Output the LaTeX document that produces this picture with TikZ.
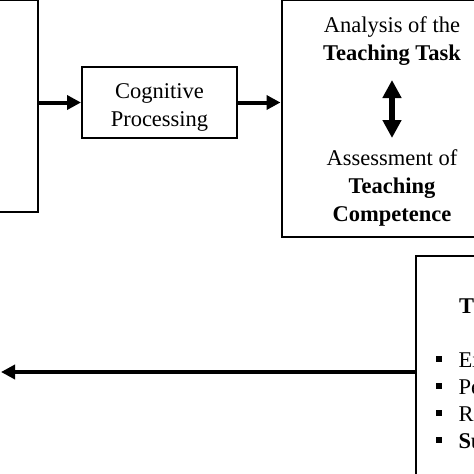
\documentclass[tikz,border=0pt]{standalone}
\usepackage{fontspec}
\setmainfont{Liberation Serif}
\usetikzlibrary{arrows.meta}

\begin{document}
\begin{tikzpicture}[x=1pt,y=-1pt,
    box/.style={draw,line width=2pt,inner sep=0pt},
    txt/.style={font=\fontsize{22.5}{28}\selectfont,align=center,inner sep=0pt},
    flow/.style={line width=4pt,-{Triangle[length=14pt,width=14pt]}},
    twoway/.style={line width=6pt,{Triangle[length=18pt,width=18pt]}-{Triangle[length=18pt,width=18pt]}},
    dot/.style={fill,inner sep=0pt,minimum size=6pt}]
    \useasboundingbox (0,0) rectangle (474,474);
    \clip (0,0) rectangle (474,474);
    % boxes
    \node[box,minimum width=50pt,minimum height=212.3pt] (source) at (12.7,105.85) {};
    \node[box,minimum width=155pt,minimum height=71pt] (cog) at (159.5,102.5) {};
    \node[box,minimum width=218.5pt,minimum height=237.3pt] (task) at (390.75,118.35) {};
    \node[box,minimum width=84pt,minimum height=244pt] (practice) at (458,378) {};
    % texts
    \node[txt] (cogtxt) at (159.5,107.5) {Cognitive\\Processing};
    \node[txt] (analysis) at (392,41.5) {Analysis of the\\\textbf{Teaching Task}};
    \node[txt] (assess) at (392,187.5) {Assessment of\\\textbf{Teaching}\\\textbf{Competence}};
    \node[txt,anchor=base west] (title) at (459,313) {\textbf{T}};
    \node[txt,anchor=base west] (item1) at (458.5,367) {Ex};
    \node[txt,anchor=base west] (item2) at (458.5,394) {Pe};
    \node[txt,anchor=base west] (item3) at (458.5,421) {Re};
    \node[txt,anchor=base west] (item4) at (458.5,448) {\textbf{Su}};
    \foreach \y [count=\i] in {359,386,413,440}
        \node[dot] (bullet\i) at (439,\y) {};
    % arrows
    \draw[flow] (source.east |- cog.west) -- (cog.west);
    \draw[flow] (cog.east) -- (task.west |- cog.east);
    \coordinate (up) at (392,80);
    \coordinate (down) at (392,138);
    \draw[twoway] (up) -- (down);
    \coordinate (outlet) at (1,372);
    \draw[flow] (practice.west |- outlet) -- (outlet);
\end{tikzpicture}
\end{document}
